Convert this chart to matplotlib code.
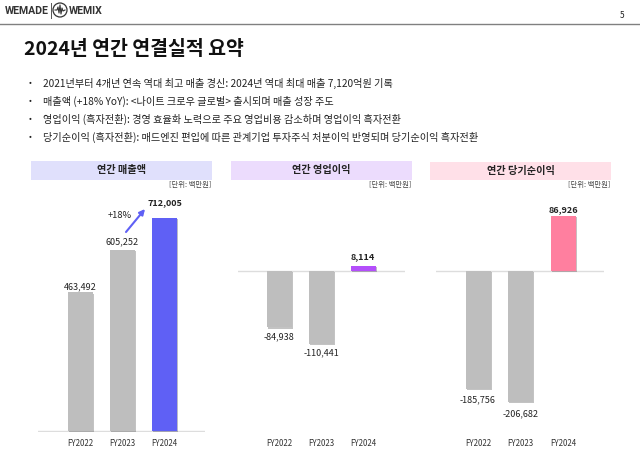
import matplotlib
matplotlib.use('Agg')
import matplotlib.pyplot as plt
import matplotlib.patheffects as pe
from matplotlib.patches import Circle, Rectangle

plt.rcParams['font.family'] = ['Noto Sans CJK KR', 'DejaVu Sans']

W, H = 640, 472

years = ['FY2022', 'FY2023', 'FY2024']
revenue = [463492, 605252, 712005]
op_income = [-84938, -110441, 8114]
net_income = [-185756, -206682, 86926]

title = '2024년 연간 연결실적 요약'
bullets = [
    '2021년부터 4개년 연속 역대 최고 매출 경신: 2024년 역대 최대 매출 7,120억원 기록',
    '매출액 (+18% YoY): <나이트 크로우 글로벌> 출시되며 매출 성장 주도',
    '영업이익 (흑자전환): 경영 효율화 노력으로 주요 영업비용 감소하며 영업이익 흑자전환',
    '당기순이익 (흑자전환): 매드엔진 편입에 따른 관계기업 투자주식 처분이익 반영되며 당기순이익 흑자전환',
]
unit_text = '[단위: 백만원]'

GRAY = '#BEBEBE'
TXT = '#222222'

fig = plt.figure(figsize=(W / 100, H / 100), dpi=100)

# overlay in pixel coordinates for the slide furniture
bg = fig.add_axes([0, 0, 1, 1])
bg.set_xlim(0, W)
bg.set_ylim(H, 0)
bg.axis('off')

# header
bg.text(5, 10.5, 'WEMADE', fontsize=7.6, fontweight='bold', family='Roboto', color='#333333', va='center')
bg.plot([51, 51], [3, 18], color='#555555', lw=0.7)
bg.add_patch(Circle((60, 10), 7, fill=False, ec='#333333', lw=0.9))
bg.plot([55, 57, 58, 59, 60, 61, 62, 63, 65], [10, 10, 7, 13, 5, 14, 8, 11, 10], color='#333333', lw=0.8)
bg.text(68.5, 10.5, 'WEMIX', fontsize=7.6, fontweight='bold', family='Roboto', color='#333333', va='center')
bg.text(622, 15, '5', fontsize=6, color=TXT, ha='center', va='center')
bg.plot([0, W], [24, 24], color='#808080', lw=1.0)

bg.text(24, 49.5, title, fontsize=14.0, fontweight='bold', color='#111111', va='center')

for y, line in zip([83, 101, 119, 137], bullets):
    bg.text(30, y, '•', fontsize=6, color=TXT, ha='center', va='center')
    bg.text(43, y, line, fontsize=7.3, color=TXT, va='center')


def panel(values, name, band, band_color, accent, left, right, zero_y, centers, px_per_unit, gaps):
    """One bar panel, axes placed in pixels"""
    bg.add_patch(Rectangle((band[0], band[1]), band[2] - band[0], band[3] - band[1], color=band_color, lw=0))
    bg.text((band[0] + band[2]) / 2, (band[1] + band[3]) / 2, name, fontsize=7.3, fontweight='bold',
            color=TXT, ha='center', va='center')
    bg.text(band[2] - 1, band[3] + 5.5, unit_text, fontsize=5.3, color='#444444', ha='right', va='center')

    top_px, bottom_px = 195, 432
    ax = fig.add_axes([left / W, 1 - bottom_px / H, (right - left) / W, (bottom_px - top_px) / H])
    step = (centers[2] - centers[0]) / 2
    ax.set_xlim((left - centers[0]) / step, (right - centers[0]) / step)
    ax.set_ylim((zero_y - bottom_px) * px_per_unit, (zero_y - top_px) * px_per_unit)
    ax.patch.set_alpha(0)

    colors = [GRAY, GRAY, accent]
    bars = ax.bar(range(3), values, width=25 / step, color=colors, zorder=3)
    for b in bars:
        b.set_path_effects([pe.SimplePatchShadow(offset=(1, -1), alpha=0.3), pe.Normal()])
    ax.axhline(0, color='#DDDDDD', lw=1.0, zorder=2)

    for i, v in enumerate(values):
        gap = gaps[i]
        ax.annotate(f'{v:,}', (i, v), xytext=(0, gap if v > 0 else -gap), textcoords='offset pixels',
                    ha='center', va='center', fontsize=6.5, color=TXT,
                    fontweight='bold' if i == 2 else 'normal')

    ax.set_xticks(range(3))
    ax.set_xticklabels(years, fontsize=5.7, color='#333333')
    ax.set_yticks([])
    ax.tick_params(axis='x', length=0, pad=5)
    for s in ax.spines.values():
        s.set_visible(False)
    return ax


ax1 = panel(revenue, '연간 매출액', (31, 161, 212, 180), '#E0E0FC', '#5F60F5',
            38, 205, 431, [80, 122.3, 164.5], 712005 / 213, [6, 8, 15])
ax2 = panel(op_income, '연간 영업이익', (231, 161, 412, 180), '#ECDCFD', '#B44FFB',
            238, 405, 271, [279, 321, 363], 110441 / 73, [10, 9, 9])
ax3 = panel(net_income, '연간 당기순이익', (430, 162, 611, 180), '#FFE0E8', '#FF7F9F',
            436, 604, 271, [478, 520.5, 563], 86926 / 55, [11, 12, 6])

# growth arrow on the revenue panel
bg.annotate('', xy=(145, 209), xytext=(126, 232),
            arrowprops=dict(arrowstyle='-|>', color='#5F60F5', lw=1.5, mutation_scale=8, shrinkA=0, shrinkB=0))
bg.text(120, 216, '+18%', fontsize=6.7, color=TXT, ha='center', va='center')

fig.savefig('out.png', dpi=100)
